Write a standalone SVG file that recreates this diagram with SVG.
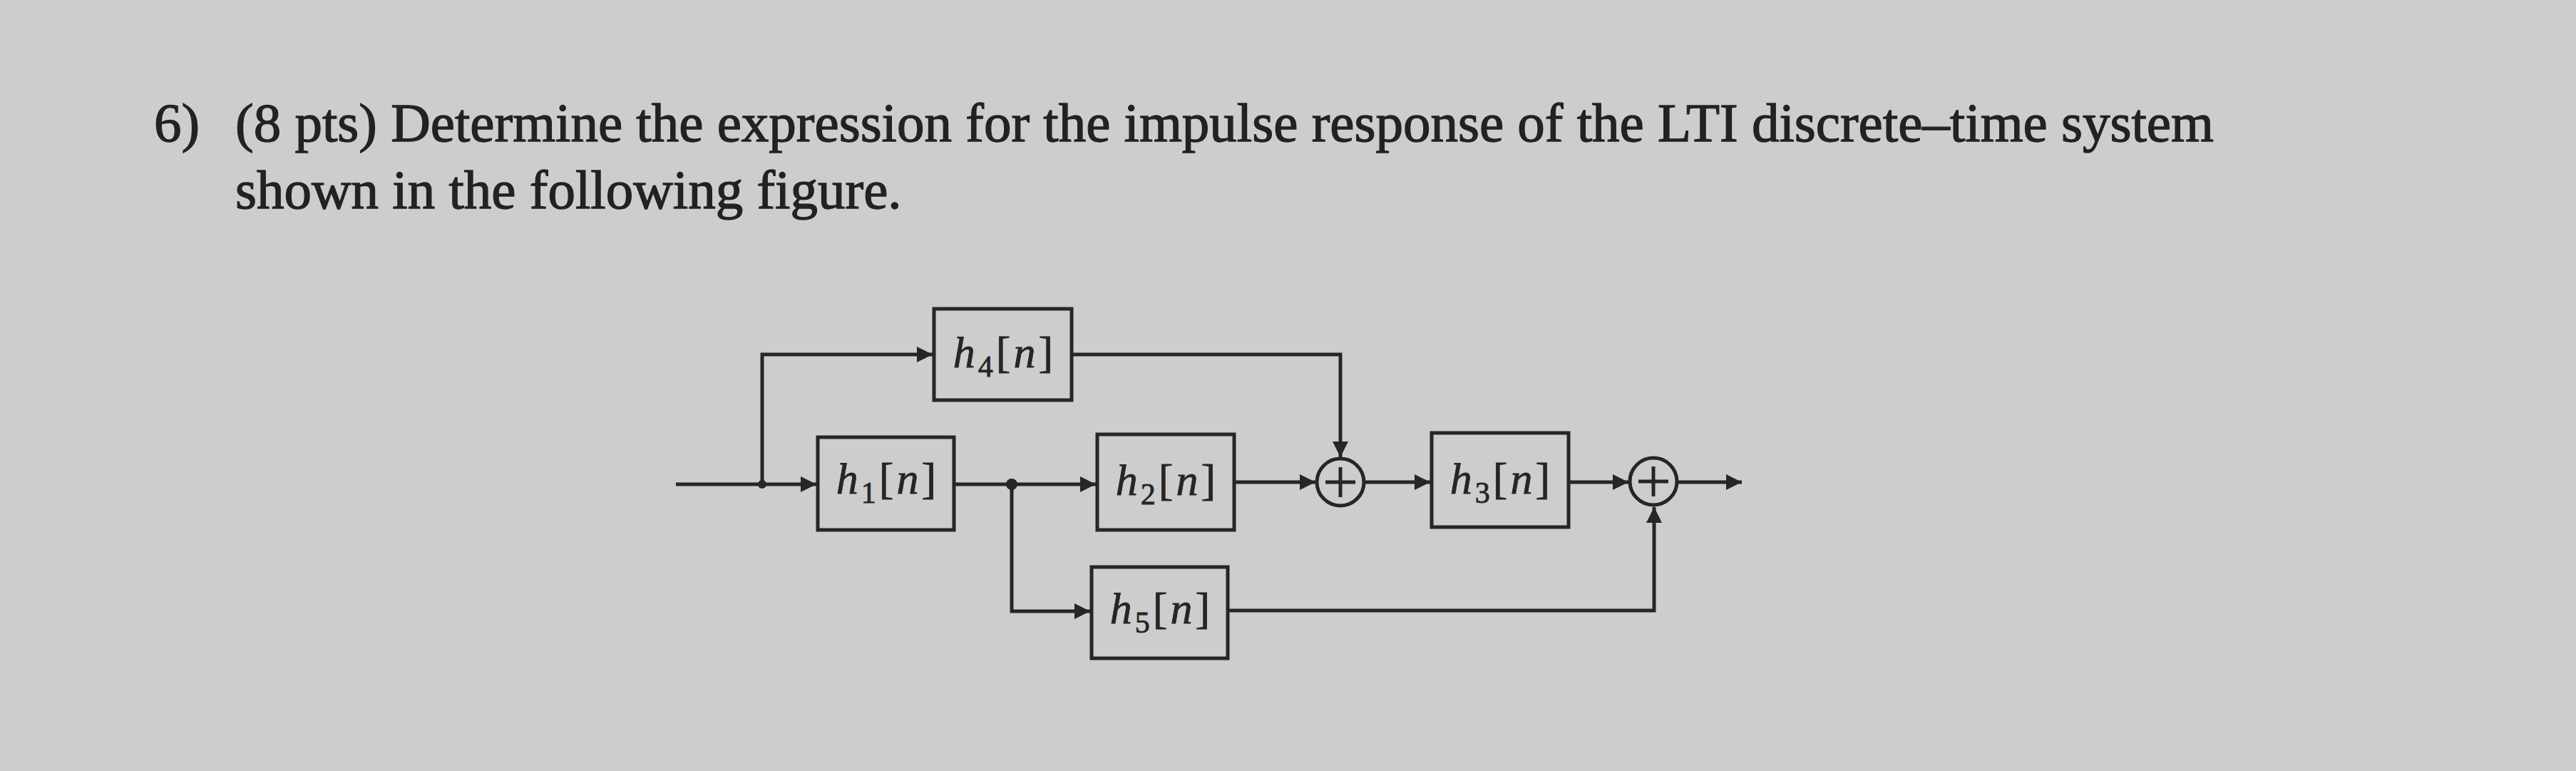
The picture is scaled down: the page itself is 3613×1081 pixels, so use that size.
<svg xmlns="http://www.w3.org/2000/svg" width="3613" height="1081" viewBox="0 0 3613 1081">
<style>
.title{font-family:"Liberation Serif","Times New Roman",serif;font-size:77px;fill:#222;stroke:#222;stroke-width:1.3}
.box{fill:none;stroke:#262626;stroke-width:5}
.wire{fill:none;stroke:#262626;stroke-width:5}
.sum{fill:none;stroke:#262626;stroke-width:5}
.lbl{font-family:"Liberation Serif","Times New Roman",serif;font-size:62px;fill:#262626;stroke:#262626;stroke-width:0.8;letter-spacing:4px}
.it{font-style:italic}
.sub{font-size:42px}
</style>
<defs>
<marker id="arr" viewBox="0 0 10 10" refX="10" refY="5" markerWidth="5.5" markerHeight="4.4" markerUnits="strokeWidth" orient="auto">
<path d="M0,0 L10,5 L0,10 z" fill="#262626"/>
</marker>
</defs>
<rect width="3613" height="1081" fill="#cdcdcd"/>
<g id="title">
<text class="title" x="216" y="198">6)</text>
<text class="title" x="330" y="198">(8 pts) Determine the expression for the impulse response of the LTI discrete–time system</text>
<text class="title" x="330" y="292">shown in the following figure.</text>
</g>
<g id="connectors">
<path class="wire" d="M948,679 H1145" marker-end="url(#arr)"/>
<path class="wire" d="M1069,679 V497 H1308" marker-end="url(#arr)"/>
<path class="wire" d="M1338,679 H1537" marker-end="url(#arr)"/>
<path class="wire" d="M1419,679 V857 H1529" marker-end="url(#arr)"/>
<path class="wire" d="M1503,497 H1880 V641" marker-end="url(#arr)"/>
<path class="wire" d="M1731,676 H1845" marker-end="url(#arr)"/>
<path class="wire" d="M1914,676 H2006" marker-end="url(#arr)"/>
<path class="wire" d="M2200,676 H2284" marker-end="url(#arr)"/>
<path class="wire" d="M2353,676 H2443" marker-end="url(#arr)"/>
<path class="wire" d="M1722,856 H2320 V711" marker-end="url(#arr)"/>
<circle cx="1069" cy="679" r="6" fill="#262626"/>
<circle cx="1419" cy="679" r="8" fill="#262626"/>
</g>
<g id="h1">
<rect class="box" x="1147" y="613" width="191" height="130"/>
<text class="lbl" x="1245" y="692" text-anchor="middle"><tspan class="it">h</tspan><tspan class="sub" dy="13">1</tspan><tspan dy="-13">[</tspan><tspan class="it">n</tspan>]</text>
</g>
<g id="h2">
<rect class="box" x="1539" y="609" width="192" height="134"/>
<text class="lbl" x="1637" y="694" text-anchor="middle"><tspan class="it">h</tspan><tspan class="sub" dy="13">2</tspan><tspan dy="-13">[</tspan><tspan class="it">n</tspan>]</text>
</g>
<g id="h3">
<rect class="box" x="2008" y="607" width="192" height="132"/>
<text class="lbl" x="2106" y="692" text-anchor="middle"><tspan class="it">h</tspan><tspan class="sub" dy="13">3</tspan><tspan dy="-13">[</tspan><tspan class="it">n</tspan>]</text>
</g>
<g id="h4">
<rect class="box" x="1310" y="433" width="193" height="128"/>
<text class="lbl" x="1409" y="515" text-anchor="middle"><tspan class="it">h</tspan><tspan class="sub" dy="13">4</tspan><tspan dy="-13">[</tspan><tspan class="it">n</tspan>]</text>
</g>
<g id="h5">
<rect class="box" x="1531" y="795" width="191" height="128"/>
<text class="lbl" x="1629" y="874" text-anchor="middle"><tspan class="it">h</tspan><tspan class="sub" dy="13">5</tspan><tspan dy="-13">[</tspan><tspan class="it">n</tspan>]</text>
</g>
<g id="sum1">
<circle class="sum" cx="1880" cy="676" r="33"/>
<path class="wire" d="M1880,655 V697 M1859,676 H1901"/>
</g>
<g id="sum2">
<circle class="sum" cx="2319" cy="675" r="33"/>
<path class="wire" d="M2319,654 V696 M2298,675 H2340"/>
</g>
</svg>
